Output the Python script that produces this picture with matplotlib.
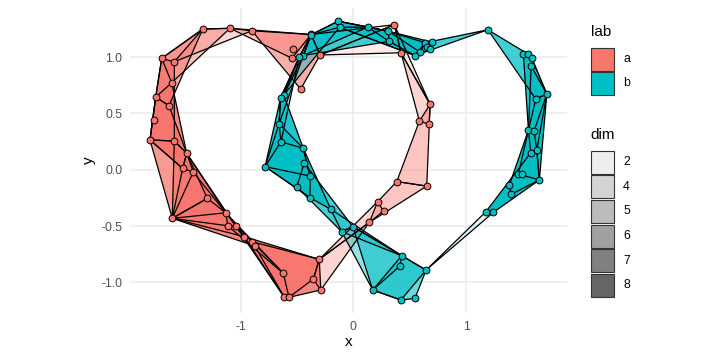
import numpy as np
import matplotlib
matplotlib.use('Agg')
import matplotlib.pyplot as plt
from matplotlib.patches import Polygon, Rectangle

plt.rcParams['font.family'] = ['Liberation Sans', 'DejaVu Sans']
plt.rcParams['axes.unicode_minus'] = False

# points, group a (red) and group b (teal)
a_x = [-1.336, -1.094, -0.901, -1.700, -1.588, -1.611, -1.753, -1.635, -1.766, -1.804,
       -1.588, -1.478, -1.514, -1.420, -1.606, -1.295, -1.132, -1.114, -1.043, -0.967,
       -0.896, -0.872, -0.621, -0.615, -0.571, -0.355, -0.302, -0.289, -0.539, -0.544,
       -0.467, -0.375, -0.295, 0.364, 0.423, 0.681, 0.586, 0.672, 0.385, 0.651,
       0.215, 0.268, 0.142]
a_y = [1.248, 1.255, 1.233, 0.988, 0.958, 0.772, 0.645, 0.568, 0.444, 0.264,
       0.255, 0.146, 0.012, -0.020, -0.431, -0.254, -0.382, -0.497, -0.500, -0.594,
       -0.639, -0.677, -0.919, -1.127, -1.132, -0.970, -0.795, -1.067, 1.068, 0.989,
       0.716, 1.200, 1.018, 1.287, 1.038, 0.580, 0.432, 0.403, -0.105, -0.145,
       -0.284, -0.366, -0.467]

b_x = [-0.136, -0.122, -0.375, -0.444, -0.480, -0.617, -0.646, -0.659, -0.642, -0.444,
       -0.783, -0.435, -0.384, -0.502, -0.384, -0.200, -0.103, -0.005, 0.128, 0.311,
       0.317, 0.636, 0.696, 0.651, 0.681, 0.592, 0.547, 1.193, 1.508, 1.553,
       1.583, 1.577, 1.716, 1.618, 1.553, 1.603, 1.574, 1.627, 1.464, 1.500,
       1.650, 1.384, 1.399, 1.175, 1.242, 0.429, 0.414, 0.645, 0.172, 0.421,
       0.547]
b_y = [1.318, 1.264, 1.197, 1.013, 0.998, 0.663, 0.634, 0.408, 0.248, 0.190,
       0.028, 0.059, -0.056, -0.151, -0.248, -0.351, -0.550, -0.504, 1.266, 1.228,
       1.139, 1.127, 1.133, 1.089, 1.068, 1.044, 1.013, 1.242, 1.027, 1.024,
       0.988, 0.920, 0.672, 0.627, 0.352, 0.343, 0.151, 0.175, -0.038, -0.038,
       -0.091, -0.136, -0.218, -0.373, -0.378, -0.763, -0.854, -0.890, -1.067, -1.156,
       -1.141]

labs = ['a', 'b']
lab_colors = ['#F8766D', '#00BFC4']
dims = [2, 4, 5, 6, 7, 8]
dim_keys = ['#EEEEEE', '#D3D3D3', '#BBBBBB', '#A0A0A0', '#808080', '#666666']
radius = 0.79   # rips diameter


def alpha_for(d):
    table = {2: 0.14, 3: 0.3, 4: 0.42, 5: 0.58, 6: 0.74, 7: 0.88}
    return table.get(d, 1.0)


def max_cliques(adj):
    out = []
    def bk(R, P, X):
        if not P and not X:
            out.append(R)
            return
        u = max(P | X, key=lambda v: len(adj[v] & P))
        for v in list(P - adj[u]):
            bk(R | {v}, P & adj[v], X & adj[v])
            P = P - {v}
            X = X | {v}
    bk(set(), set(adj.keys()), set())
    return out


def hull(pts):
    pts = sorted(set(pts))
    if len(pts) < 3:
        return pts
    def cross(o, a, b):
        return (a[0]-o[0])*(b[1]-o[1]) - (a[1]-o[1])*(b[0]-o[0])
    lower = []
    for p in pts:
        while len(lower) >= 2 and cross(lower[-2], lower[-1], p) <= 0:
            lower.pop()
        lower.append(p)
    upper = []
    for p in reversed(pts):
        while len(upper) >= 2 and cross(upper[-2], upper[-1], p) <= 0:
            upper.pop()
        upper.append(p)
    return lower[:-1] + upper[:-1]


fig = plt.figure(figsize=(7.2, 3.6), dpi=100)
ax = fig.add_axes([130/720, 1-313/360, 437/720, 305/360])
ax.set_xlim(-1.981, 1.895)
ax.set_ylim(-1.271, 1.435)

for gx, gy, col in [(a_x, a_y, lab_colors[0]), (b_x, b_y, lab_colors[1])]:
    xs = np.array(gx)
    ys = np.array(gy)
    n = len(xs)
    adj = {i: set() for i in range(n)}
    for i in range(n):
        for j in range(i+1, n):
            if np.hypot(xs[i]-xs[j], ys[i]-ys[j]) <= radius:
                adj[i].add(j)
                adj[j].add(i)
    cl = max_cliques(adj)
    cl.sort(key=len)
    for c in cl:
        if len(c) >= 3:
            h = hull([(xs[k], ys[k]) for k in c])
            ax.add_patch(Polygon(h, closed=True, facecolor=col, alpha=alpha_for(len(c)-1),
                                 edgecolor='none', zorder=2))
    for c in cl:
        if len(c) >= 3:
            h = hull([(xs[k], ys[k]) for k in c])
            ax.add_patch(Polygon(h, closed=True, facecolor='none', edgecolor='black',
                                 lw=0.9, zorder=3))
        elif len(c) == 2:
            i, j = list(c)
            ax.plot([xs[i], xs[j]], [ys[i], ys[j]], color='black', lw=0.9, zorder=3)
    ax.scatter(xs, ys, s=24, facecolor=col, edgecolor='black', linewidth=0.7, zorder=4)

ax.set_xticks([-1, 0, 1])
ax.set_yticks([-1.0, -0.5, 0.0, 0.5, 1.0])
ax.set_yticklabels(['-1.0', '-0.5', '0.0', '0.5', '1.0'])
ax.grid(True, color='#EBEBEB', lw=1.1, zorder=0)
ax.set_axisbelow(True)
for s in ax.spines.values():
    s.set_visible(False)
ax.tick_params(length=0, labelsize=8.8, labelcolor='#4D4D4D', pad=5.5)
ax.set_xlabel('x', fontsize=11, labelpad=2)
ax.set_ylabel('y', fontsize=11, labelpad=4)

# legends
W, H = 720, 360
def fx(px):
    return px / W
def fy(py):
    return 1 - py / H

fig.text(fx(590.5), fy(32), 'lab', fontsize=11, va='center', ha='left')
for k, (lb, col) in enumerate(zip(labs, lab_colors)):
    top = 47.5 + k*24.3
    fig.add_artist(Rectangle((fx(591), fy(top+23)), 23/W, 23/H, facecolor=col,
                             edgecolor='#333333', lw=0.8, transform=fig.transFigure))
    fig.text(fx(623), fy(top+11.5), lb, fontsize=8.8, va='center', ha='left')

fig.text(fx(590.5), fy(135), 'dim', fontsize=11, va='center', ha='left')
for k, (d, col) in enumerate(zip(dims, dim_keys)):
    top = 150.8 + k*24.6
    fig.add_artist(Rectangle((fx(591), fy(top+23)), 23/W, 23/H, facecolor=col,
                             edgecolor='#333333', lw=0.8, transform=fig.transFigure))
    fig.text(fx(623), fy(top+11.5), str(d), fontsize=8.8, va='center', ha='left')

fig.savefig('out.png', dpi=100)
